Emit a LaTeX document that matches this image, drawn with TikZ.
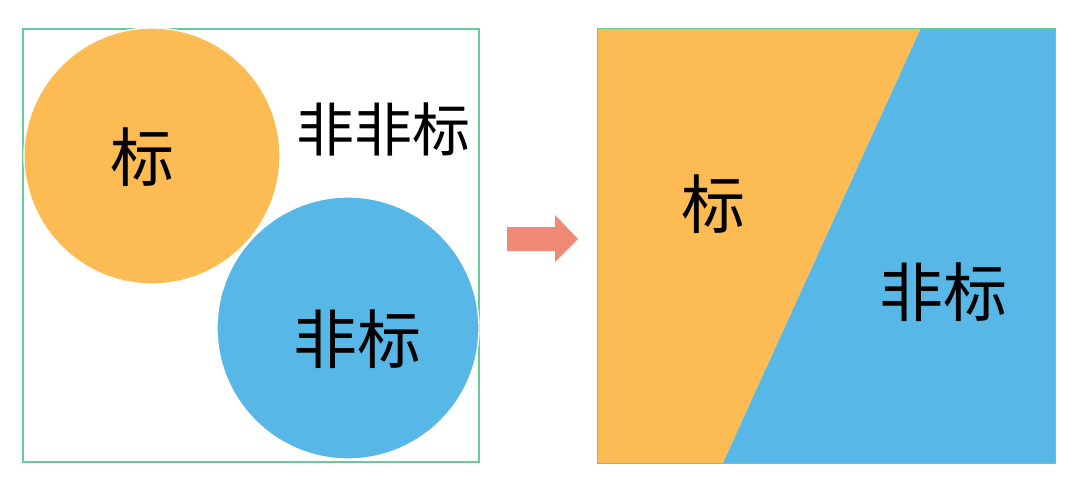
\documentclass[tikz,border=0pt]{standalone}
\usepackage{fontspec}
\newfontfamily\cjk{Noto Sans CJK SC}
\definecolor{biaoc}{RGB}{253,187,84}
\definecolor{feic}{RGB}{87,183,230}
\definecolor{framec}{RGB}{102,204,153}
\definecolor{arrowc}{RGB}{240,137,117}
\tikzset{
  disc/.style={circle, inner sep=0pt, draw=white, line width=1pt},
  tag/.style={font=\cjk\fontsize{48}{48}\selectfont, inner sep=0pt},
}
\begin{document}
\begin{tikzpicture}[x=0.75pt,y=-0.75pt]
            \useasboundingbox (0,0) rectangle (1080,493);
            \draw[framec, line width=1.5pt] (23,29) rectangle (479,462);
            \node (1) [disc, fill=biaoc, minimum size=192pt] at (152,156) {};
            \node (2) [disc, fill=feic, minimum size=196.5pt] at (348,328) {};
            \node (3) [tag] at (142,157) {标};
            \node (4) [tag] at (357,339) {非标};
            \node (5) [tag, font=\cjk\fontsize{43.5}{43.5}\selectfont] at (383,129) {非非标};

            \fill[arrowc] (507,227) -- (555,227) -- (555,215) -- (578,239)
                -- (555,262) -- (555,251) -- (507,251) -- cycle;

            \fill[biaoc] (597,28) -- (921,28) -- (723,463) -- (597,463) -- cycle;
            \fill[feic] (921,28) -- (1055,28) -- (1055,463) -- (723,463) -- cycle;
            \draw[framec, line width=0.5pt] (597,28) rectangle (1055,463);
            \node (6) [tag] at (713,204) {标};
            \node (7) [tag] at (943,292) {非标};
\end{tikzpicture}
\end{document}
